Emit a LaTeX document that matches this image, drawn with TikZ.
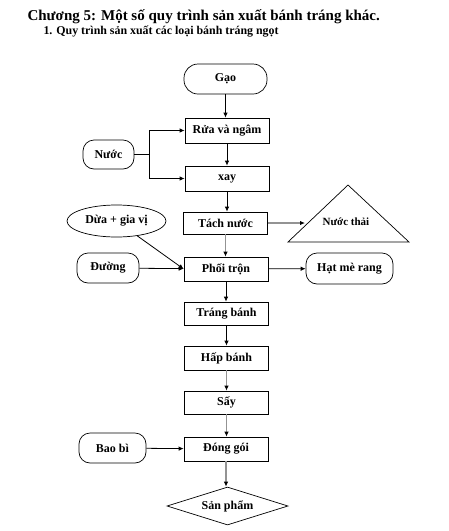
\documentclass[tikz,border=0pt]{standalone}
\usepackage{fontspec}
\setmainfont{Liberation Serif}
\usetikzlibrary{arrows.meta,shapes.geometric}

\begin{document}
\begin{tikzpicture}[x=1pt,y=-1pt,>={Latex[length=5pt,width=4.5pt]},font=\bfseries\fontsize{12}{14}\selectfont,
  buoc/.style={draw,line width=0.7pt,minimum width=84pt,minimum height=24pt,inner sep=1pt},
  nguyenlieu/.style={draw,line width=0.7pt,rounded corners=11pt,minimum height=30pt,inner sep=1pt},
  muiten/.style={->,line width=0.8pt},
  muitenxam/.style={-{Latex[length=5pt,width=4.5pt,color=black]},line width=1.6pt,gray!85}]
\useasboundingbox (0,0) rectangle (449,531);
\node[anchor=base west,font=\bfseries\fontsize{15}{17}\selectfont] (tieude) at (24,20){Chương 5: Một số quy trình sản xuất bánh tráng khác.};
\node[anchor=base west,font=\bfseries\fontsize{11.9}{13}\selectfont] (muc) at (40,34){1. Quy trình sản xuất các loại bánh tráng ngọt};
% cac buoc chinh
\node[nguyenlieu,minimum width=83pt,rounded corners=14pt] (gao) at (225.5,79){Gạo};
\node[buoc,minimum height=25pt] (rua) at (227,130.5){Rửa và ngâm};
\node[buoc,minimum height=25pt] (xay) at (227,178.5){xay};
\node[buoc,minimum height=22pt] (tach) at (225.5,223){Tách nước};
\node[buoc] (phoi) at (226,269){Phối trộn};
\node[buoc,minimum height=23pt] (trang) at (226.5,313.5){Tráng bánh};
\node[buoc] (hap) at (226.5,358){Hấp bánh};
\node[buoc,minimum height=23pt] (say) at (226.5,402.5){Sấy};
\node[buoc] (dong) at (226,449){Đóng gói};
\node[draw,diamond,aspect=3.2,line width=0.7pt,minimum width=121pt,minimum height=38pt,inner sep=0pt] (sp) at (227.5,506){Sản phẩm};
% dau vao, dau ra
\node[nguyenlieu,minimum width=51pt,minimum height=29pt] (nuoc) at (108.5,154.5){Nước};
\node[draw,ellipse,line width=0.7pt,minimum width=99pt,minimum height=32pt,inner sep=0pt] (dua) at (116.5,221){Dừa + gia vị};
\node[nguyenlieu,minimum width=62pt] (duong) at (108,268){Đường};
\node[nguyenlieu,minimum width=87pt,minimum height=31pt] (me) at (349.5,268.5){Hạt mè rang};
\node[nguyenlieu,minimum width=67pt] (baobi) at (112.5,448){Bao bì};
\draw[line width=0.7pt] (288,242) -- (348,185) -- (409,242) -- cycle;
\node[font=\bfseries\fontsize{11}{13}\selectfont] (thai) at (346,222){Nước thải};
\coordinate (thaitrai) at (305,223);
\coordinate (re) at (149,154.5);
% mui ten
\draw[muiten] (gao) -- (gao|-rua.north);
\draw[muiten] (rua) -- (xay);
\draw[muiten] (xay) -- (xay|-tach.north);
\draw[muitenxam] (tach) -- (tach|-phoi.north);
\draw[muitenxam] (tach) -- (thaitrai);
\draw[muiten] (phoi) -- (phoi|-trang.north);
\draw[muiten] (trang) -- (trang|-hap.north);
\draw[muitenxam] (hap) -- (say);
\draw[muitenxam] (say) -- (say|-dong.north);
\draw[muitenxam] (dong) -- (dong|-sp.north);
\draw[line width=0.8pt] (nuoc) -- (re);
\draw[muiten] (re) |- (rua);
\draw[muiten] (re) |- (xay.west);
\draw[muiten] (dua) -- (phoi.west);
\draw[muiten] (duong) -- (phoi);
\draw[muiten] (phoi) -- (me);
\draw[muiten] (baobi) -- (dong);
\end{tikzpicture}
\end{document}
